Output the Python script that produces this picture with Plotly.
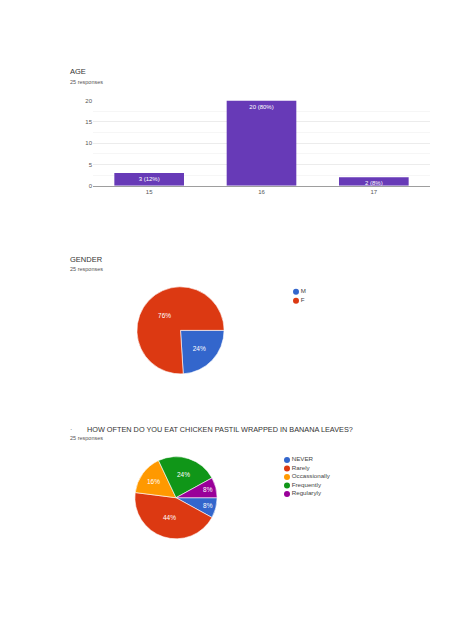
import plotly.graph_objects as go

# page body has an 8px margin, so the figure is drawn 16px smaller
OFF = 8
W, H = 474 - 2 * OFF, 632 - 2 * OFF

# --- data ---
age_labels = ["15", "16", "17"]
age_counts = [3, 20, 2]

gender_labels = ["M", "F"]
gender_counts = [6, 19]

often_labels = ["NEVER", "Rarely", "Occassionally", "Frequently", "Regularyly"]
often_counts = [2, 11, 4, 6, 2]

PIE_COLORS = ["#3366cc", "#dc3912", "#ff9900", "#109618", "#990099"]
BAR_COLOR = "#673ab7"
FONT = "Liberation Sans, Arial, sans-serif"


def px_x(x):
    return (x - OFF) / W


def px_y(y):
    return 1 - (y - OFF) / H


def pie_domain(cx, cy, r):
    return dict(x=[px_x(cx - r), px_x(cx + r)], y=[px_y(cy + r), px_y(cy - r)])


total_age = sum(age_counts)
age_text = [f"{v} ({round(v / total_age * 100)}%)" for v in age_counts]

fig = go.Figure()

# AGE bar chart
fig.add_trace(go.Bar(
    x=age_labels, y=age_counts, text=age_text,
    textposition="inside", insidetextanchor="end", constraintext="none",
    textfont=dict(color="white", size=6, family=FONT),
    marker=dict(color=BAR_COLOR, line=dict(width=0)),
    width=0.62, showlegend=False, xaxis="x", yaxis="y",
))

# GENDER pie
fig.add_trace(go.Pie(
    labels=gender_labels, values=gender_counts, sort=False,
    direction="clockwise", rotation=90,
    marker=dict(colors=PIE_COLORS[:2], line=dict(color="white", width=0.6)),
    textinfo="percent", textposition="inside", insidetextorientation="horizontal",
    textfont=dict(color="white", size=6.5, family=FONT),
    domain=pie_domain(180.5, 330.5, 44), showlegend=False,
))

# HOW OFTEN pie
fig.add_trace(go.Pie(
    labels=often_labels, values=often_counts, sort=False,
    direction="clockwise", rotation=90,
    marker=dict(colors=PIE_COLORS, line=dict(color="white", width=0.6)),
    textinfo="percent", textposition="inside", insidetextorientation="horizontal",
    textfont=dict(color="white", size=6.5, family=FONT),
    domain=pie_domain(176, 499.5, 41.5), showlegend=False,
))

# legends drawn as small scatter columns on hidden axes
fig.add_trace(go.Scatter(
    x=[0] * len(gender_labels), y=list(range(len(gender_labels))),
    mode="markers+text", text=gender_labels, textposition="middle right",
    marker=dict(color=PIE_COLORS[:2], size=6), cliponaxis=False,
    textfont=dict(size=6.2, color="#444", family=FONT),
    showlegend=False, hoverinfo="skip", xaxis="x2", yaxis="y2",
))
fig.add_trace(go.Scatter(
    x=[0] * len(often_labels), y=list(range(len(often_labels))),
    mode="markers+text", text=often_labels, textposition="middle right",
    marker=dict(color=PIE_COLORS, size=6), cliponaxis=False,
    textfont=dict(size=6.2, color="#444", family=FONT),
    showlegend=False, hoverinfo="skip", xaxis="x3", yaxis="y3",
))

hidden = dict(visible=False, showgrid=False, zeroline=False, fixedrange=True)

fig.update_layout(
    width=W, height=H,
    margin=dict(l=0, r=0, t=0, b=0),
    paper_bgcolor="white", plot_bgcolor="white",
    font=dict(family=FONT, color="#666"),
    xaxis=dict(
        domain=[px_x(93), px_x(430)], type="category",
        tickfont=dict(size=6, color="#555"), ticks="", showgrid=False,
        showline=True, linecolor="#9e9e9e", linewidth=1,
    ),
    yaxis=dict(
        domain=[px_y(184.5), px_y(98.5)], range=[0, 20], dtick=5,
        tickfont=dict(size=6, color="#555"), ticks="",
        showgrid=True, gridcolor="#ececec", gridwidth=1, zeroline=False,
        minor=dict(dtick=2.5, showgrid=True, gridcolor="#f6f6f6"),
    ),
    xaxis2=dict(hidden, domain=[px_x(296), px_x(380)], range=[0, 10], anchor="y2"),
    yaxis2=dict(hidden, domain=[px_y(305), px_y(287)], range=[1.5, -0.5], anchor="x2"),
    xaxis3=dict(hidden, domain=[px_x(287), px_x(371)], range=[0, 10], anchor="y3"),
    yaxis3=dict(hidden, domain=[px_y(500), px_y(457)], range=[4.5, -0.5], anchor="x3"),
)

titles = [
    ("AGE", 68, 69.5, 7.5, "#333"),
    ("25 responses", 68, 79.7, 5.5, "#555"),
    ("GENDER", 68, 258.5, 7.5, "#333"),
    ("25 responses", 68, 269, 5.5, "#555"),
    ("·", 68, 431, 7, "#777"),
    ("HOW OFTEN DO YOU EAT CHICKEN PASTIL WRAPPED IN BANANA LEAVES?", 85, 430.5, 7.3, "#333"),
    ("25 responses", 68, 439.5, 5.5, "#555"),
]
for text, x, y, size, color in titles:
    fig.add_annotation(
        text=text, x=px_x(x), y=px_y(y), xref="paper", yref="paper",
        xanchor="left", yanchor="middle", showarrow=False,
        font=dict(size=size, color=color, family=FONT),
    )

fig.write_html("out.html")
